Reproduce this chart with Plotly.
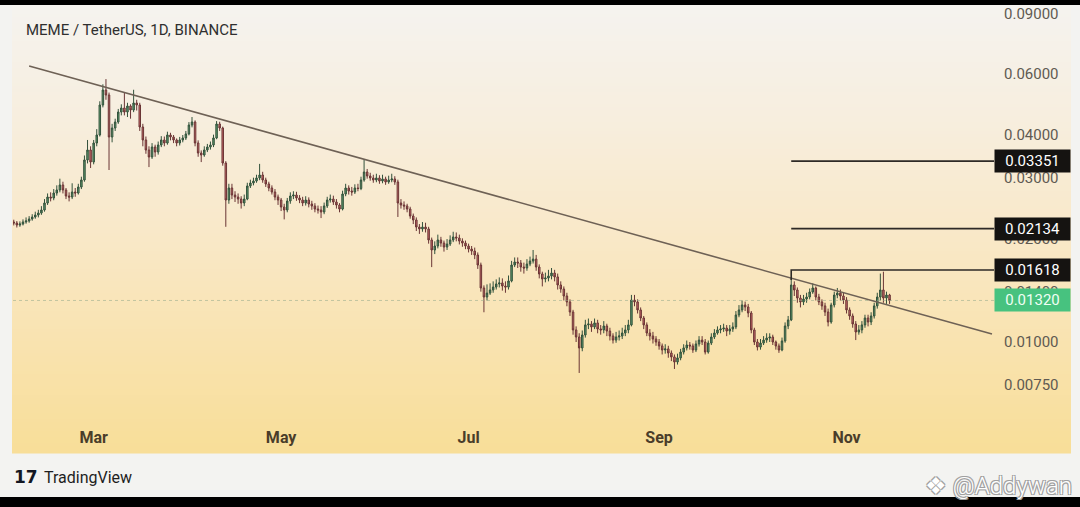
import math
import pandas as pd
import plotly.graph_objects as go

# MEME / USDT daily candles, 2024-02-04 .. 2024-11-15
start_day = "2024-02-04"
first_open = 0.02230

closes = [
    0.02216, 0.02186, 0.02201, 0.02231, 0.02246, 0.02276, 0.02306, 0.02337, 0.02369, 0.02417,
    0.02533, 0.02636, 0.02619, 0.02708, 0.02763, 0.02857, 0.02763, 0.02654, 0.02636, 0.02726,
    0.02708, 0.02819, 0.02954, 0.03377, 0.03610, 0.03332, 0.03783, 0.03991, 0.04877, 0.05391,
    0.05214, 0.03938, 0.04182, 0.04353, 0.04654, 0.04780, 0.04654, 0.04844, 0.04717, 0.04943,
    0.04877, 0.04210, 0.03860, 0.03610, 0.03445, 0.03683, 0.03562, 0.03733, 0.03860, 0.03783,
    0.03991, 0.03938, 0.03860, 0.03783, 0.03860, 0.03912, 0.04018, 0.04266, 0.04353, 0.03783,
    0.03538, 0.03491, 0.03610, 0.03683, 0.03733, 0.03912, 0.04295, 0.04182, 0.03309, 0.02584,
    0.02800, 0.02672, 0.02636, 0.02601, 0.02533, 0.02601, 0.02838, 0.02895, 0.02934, 0.02994,
    0.03054, 0.02954, 0.02876, 0.02800, 0.02726, 0.02636, 0.02584, 0.02466, 0.02417, 0.02567,
    0.02654, 0.02672, 0.02619, 0.02584, 0.02533, 0.02584, 0.02516, 0.02483, 0.02433, 0.02417,
    0.02385, 0.02483, 0.02584, 0.02601, 0.02550, 0.02499, 0.02433, 0.02690, 0.02800, 0.02744,
    0.02726, 0.02800, 0.02790, 0.02954, 0.03116, 0.03034, 0.02994, 0.02954, 0.02994, 0.02934,
    0.02974, 0.02915, 0.02954, 0.02974, 0.02915, 0.02533, 0.02499, 0.02483, 0.02433, 0.02322,
    0.02261, 0.02157, 0.02129, 0.02157, 0.02129, 0.01978, 0.01850, 0.01900, 0.01978, 0.01938,
    0.01887, 0.01925, 0.01978, 0.02018, 0.02004, 0.01964, 0.01938, 0.01900, 0.01862, 0.01837,
    0.01789, 0.01673, 0.01435, 0.01351, 0.01387, 0.01416, 0.01444, 0.01474, 0.01484, 0.01454,
    0.01444, 0.01504, 0.01673, 0.01707, 0.01695, 0.01651, 0.01640, 0.01684, 0.01718, 0.01741,
    0.01651, 0.01576, 0.01524, 0.01534, 0.01555, 0.01586, 0.01545, 0.01464, 0.01425, 0.01360,
    0.01307, 0.01222, 0.01084, 0.01034, 0.00961, 0.01048, 0.01121, 0.01128, 0.01106, 0.01136,
    0.01091, 0.01084, 0.01113, 0.01076, 0.01041, 0.01013, 0.01034, 0.01041, 0.01062, 0.01084,
    0.01121, 0.01324, 0.01307, 0.01239, 0.01174, 0.01121, 0.01062, 0.01041, 0.01020, 0.01000,
    0.00974, 0.00948, 0.00955, 0.00929, 0.00905, 0.00875, 0.00899, 0.00935, 0.00961, 0.00980,
    0.00974, 0.00948, 0.00987, 0.01013, 0.01000, 0.00935, 0.00993, 0.01034, 0.01062, 0.01084,
    0.01091, 0.01098, 0.01076, 0.01091, 0.01106, 0.01198, 0.01239, 0.01281, 0.01264, 0.01214,
    0.01084, 0.01000, 0.00967, 0.00993, 0.01013, 0.01027, 0.01034, 0.01000, 0.00974, 0.00948,
    0.01007, 0.01113, 0.01159, 0.01464, 0.01416, 0.01342, 0.01307, 0.01333, 0.01351, 0.01397,
    0.01435, 0.01351, 0.01307, 0.01273, 0.01222, 0.01143, 0.01281, 0.01369, 0.01387, 0.01360,
    0.01324, 0.01239, 0.01190, 0.01128, 0.01069, 0.01084, 0.01121, 0.01174, 0.01143, 0.01190,
    0.01273, 0.01351, 0.01416, 0.01342, 0.01369, 0.01320,
]

highs = [
    0.02265, 0.02245, 0.02240, 0.02270, 0.02300, 0.02320, 0.02350, 0.02390, 0.02420, 0.02480,
    0.02600, 0.02700, 0.02720, 0.02780, 0.02850, 0.02980, 0.02920, 0.02800, 0.02720, 0.02890,
    0.02800, 0.02880, 0.03020, 0.03480, 0.03860, 0.03700, 0.03860, 0.04150, 0.05000, 0.05600,
    0.05800, 0.05300, 0.04300, 0.04450, 0.04750, 0.04900, 0.05300, 0.04950, 0.04900, 0.05400,
    0.05050, 0.04950, 0.04300, 0.03950, 0.03700, 0.03780, 0.03740, 0.03820, 0.03960, 0.03950,
    0.04080, 0.04050, 0.03990, 0.03900, 0.03940, 0.03990, 0.04100, 0.04350, 0.04500, 0.04400,
    0.03850, 0.03600, 0.03700, 0.03760, 0.03820, 0.04000, 0.04380, 0.04360, 0.04220, 0.03350,
    0.02880, 0.02880, 0.02740, 0.02700, 0.02650, 0.02680, 0.02900, 0.02960, 0.03000, 0.03060,
    0.03290, 0.03120, 0.03000, 0.02920, 0.02850, 0.02780, 0.02680, 0.02620, 0.02520, 0.02620,
    0.02720, 0.02740, 0.02730, 0.02670, 0.02640, 0.02650, 0.02630, 0.02570, 0.02530, 0.02490,
    0.02480, 0.02540, 0.02640, 0.02680, 0.02660, 0.02600, 0.02530, 0.02750, 0.02880, 0.02850,
    0.02820, 0.02870, 0.02880, 0.03020, 0.03380, 0.03180, 0.03100, 0.03060, 0.03080, 0.03050,
    0.03060, 0.03020, 0.03040, 0.03080, 0.03030, 0.02960, 0.02600, 0.02560, 0.02520, 0.02470,
    0.02360, 0.02300, 0.02200, 0.02230, 0.02220, 0.02160, 0.02010, 0.01960, 0.02050, 0.02020,
    0.01970, 0.01990, 0.02040, 0.02090, 0.02080, 0.02050, 0.02000, 0.01970, 0.01930, 0.01900,
    0.01880, 0.01820, 0.01700, 0.01460, 0.01470, 0.01480, 0.01500, 0.01520, 0.01540, 0.01530,
    0.01500, 0.01560, 0.01720, 0.01760, 0.01760, 0.01730, 0.01700, 0.01740, 0.01770, 0.01850,
    0.01790, 0.01680, 0.01600, 0.01590, 0.01620, 0.01640, 0.01620, 0.01580, 0.01500, 0.01450,
    0.01390, 0.01330, 0.01240, 0.01110, 0.01060, 0.01080, 0.01160, 0.01170, 0.01150, 0.01170,
    0.01160, 0.01120, 0.01150, 0.01130, 0.01100, 0.01060, 0.01070, 0.01080, 0.01100, 0.01120,
    0.01160, 0.01370, 0.01370, 0.01330, 0.01260, 0.01190, 0.01140, 0.01090, 0.01070, 0.01040,
    0.01020, 0.00990, 0.00985, 0.00975, 0.00945, 0.00920, 0.00925, 0.00955, 0.00985, 0.01010,
    0.01000, 0.00990, 0.01010, 0.01040, 0.01040, 0.01020, 0.01010, 0.01060, 0.01090, 0.01110,
    0.01120, 0.01130, 0.01120, 0.01120, 0.01140, 0.01230, 0.01280, 0.01320, 0.01310, 0.01290,
    0.01230, 0.01100, 0.01020, 0.01020, 0.01040, 0.01060, 0.01060, 0.01050, 0.01010, 0.00990,
    0.01030, 0.01140, 0.01190, 0.01530, 0.01500, 0.01440, 0.01370, 0.01370, 0.01390, 0.01430,
    0.01480, 0.01450, 0.01380, 0.01330, 0.01300, 0.01250, 0.01300, 0.01400, 0.01435, 0.01420,
    0.01390, 0.01350, 0.01260, 0.01210, 0.01150, 0.01120, 0.01150, 0.01200, 0.01200, 0.01220,
    0.01300, 0.01390, 0.01580, 0.01600, 0.01400, 0.01380,
]

lows = [
    0.02180, 0.02150, 0.02160, 0.02180, 0.02205, 0.02220, 0.02250, 0.02280, 0.02300, 0.02340,
    0.02390, 0.02500, 0.02560, 0.02580, 0.02660, 0.02720, 0.02700, 0.02600, 0.02560, 0.02600,
    0.02640, 0.02680, 0.02780, 0.02920, 0.03300, 0.03200, 0.03280, 0.03700, 0.03950, 0.04800,
    0.05050, 0.03158, 0.03800, 0.04100, 0.04300, 0.04550, 0.04550, 0.04500, 0.04450, 0.04650,
    0.04700, 0.04100, 0.03700, 0.03520, 0.03220, 0.03400, 0.03450, 0.03500, 0.03680, 0.03700,
    0.03740, 0.03850, 0.03780, 0.03700, 0.03720, 0.03800, 0.03860, 0.03980, 0.04200, 0.03700,
    0.03450, 0.03330, 0.03450, 0.03560, 0.03620, 0.03680, 0.03880, 0.04100, 0.03250, 0.02160,
    0.02520, 0.02600, 0.02550, 0.02520, 0.02440, 0.02480, 0.02580, 0.02800, 0.02850, 0.02900,
    0.02950, 0.02900, 0.02820, 0.02740, 0.02680, 0.02580, 0.02500, 0.02400, 0.02270, 0.02380,
    0.02520, 0.02600, 0.02570, 0.02530, 0.02480, 0.02490, 0.02460, 0.02420, 0.02380, 0.02360,
    0.02290, 0.02350, 0.02450, 0.02540, 0.02500, 0.02440, 0.02380, 0.02410, 0.02650, 0.02680,
    0.02660, 0.02690, 0.02740, 0.02760, 0.02920, 0.02980, 0.02940, 0.02900, 0.02910, 0.02880,
    0.02890, 0.02860, 0.02880, 0.02910, 0.02860, 0.02307, 0.02440, 0.02420, 0.02380, 0.02280,
    0.02200, 0.02100, 0.02060, 0.02090, 0.02080, 0.01930, 0.01650, 0.01800, 0.01870, 0.01890,
    0.01830, 0.01850, 0.01900, 0.01950, 0.01960, 0.01920, 0.01890, 0.01860, 0.01820, 0.01790,
    0.01740, 0.01630, 0.01400, 0.01220, 0.01320, 0.01370, 0.01390, 0.01420, 0.01440, 0.01410,
    0.01390, 0.01420, 0.01490, 0.01650, 0.01640, 0.01600, 0.01580, 0.01610, 0.01660, 0.01690,
    0.01610, 0.01530, 0.01450, 0.01490, 0.01500, 0.01520, 0.01500, 0.01420, 0.01390, 0.01320,
    0.01270, 0.01190, 0.01050, 0.01000, 0.00813, 0.00940, 0.01030, 0.01090, 0.01070, 0.01090,
    0.01060, 0.01050, 0.01060, 0.01040, 0.01010, 0.00990, 0.00995, 0.01010, 0.01020, 0.01040,
    0.01060, 0.01110, 0.01270, 0.01210, 0.01150, 0.01090, 0.01040, 0.01010, 0.00990, 0.00975,
    0.00950, 0.00920, 0.00925, 0.00900, 0.00880, 0.00835, 0.00860, 0.00885, 0.00920, 0.00945,
    0.00950, 0.00930, 0.00935, 0.00970, 0.00980, 0.00920, 0.00925, 0.00980, 0.01020, 0.01050,
    0.01060, 0.01070, 0.01040, 0.01050, 0.01070, 0.01090, 0.01180, 0.01220, 0.01230, 0.01180,
    0.01060, 0.00980, 0.00945, 0.00950, 0.00980, 0.00995, 0.01000, 0.00980, 0.00950, 0.00930,
    0.00940, 0.00995, 0.01090, 0.01150, 0.01360, 0.01300, 0.01260, 0.01280, 0.01300, 0.01330,
    0.01380, 0.01320, 0.01280, 0.01240, 0.01190, 0.01110, 0.01130, 0.01260, 0.01340, 0.01320,
    0.01290, 0.01210, 0.01160, 0.01100, 0.01013, 0.01050, 0.01060, 0.01100, 0.01110, 0.01120,
    0.01170, 0.01250, 0.01320, 0.01300, 0.01290, 0.01290,
]

# drawn objects
trend_dates = ["2024-02-09", "2024-12-18 08:00"]
trend_prices = [0.0633, 0.01055]
level_start = "2024-10-14"
level_end = "2024-12-19"
level_prices = [0.03351, 0.02134, 0.01618]
level_stub_low = 0.01514
last_price = 0.01320

month_ticks = ["2024-03-01", "2024-05-01", "2024-07-01", "2024-09-01", "2024-11-01"]
month_labels = ["Mar", "May", "Jul", "Sep", "Nov"]
price_ticks = [0.0075, 0.01, 0.014, 0.02, 0.03, 0.04, 0.06, 0.09]

x_range = ["2024-02-03 18:00", "2024-12-19 07:30"]

dates = pd.date_range(start_day, periods=len(closes), freq="D")
opens = [first_open] + closes[:-1]

# layout in pixels (1080 x 507)
W, H = 1080, 507
L, R, T, B = 13, 85, 5, 87
PW, PH = W - L - R, H - T - B


def px(p):
    return (p - L) / PW


def py(p):
    return (H - B - p) / PH


fig = go.Figure()

fig.add_trace(go.Candlestick(
    x=dates, open=opens, high=highs, low=lows, close=closes,
    increasing=dict(fillcolor="#5f9b6d", line=dict(color="#33523c", width=1)),
    decreasing=dict(fillcolor="#cc6b6b", line=dict(color="#6a3535", width=1)),
    whiskerwidth=0, showlegend=False, hoverinfo="skip",
))

# last price dotted line
fig.add_trace(go.Scatter(
    x=x_range, y=[last_price, last_price], mode="lines",
    line=dict(color="rgba(150,170,140,0.55)", width=1, dash="dot"),
    showlegend=False, hoverinfo="skip",
))

# descending trendline
fig.add_trace(go.Scatter(
    x=trend_dates, y=trend_prices, mode="lines",
    line=dict(color="#6e6155", width=1.6),
    showlegend=False, hoverinfo="skip",
))

# horizontal target levels
for i, lv in enumerate(level_prices):
    xs = [level_start, level_end]
    ys = [lv, lv]
    if i == len(level_prices) - 1:
        xs = [level_start] + xs
        ys = [level_stub_low] + ys
    fig.add_trace(go.Scatter(
        x=xs, y=ys, mode="lines",
        line=dict(color="#2e2a26", width=1.6),
        showlegend=False, hoverinfo="skip",
    ))

# background gradient (top whitish -> bottom yellow)
stops = [(5, (245, 243, 239)), (120, (247, 238, 222)), (240, (249, 232, 199)),
         (340, (249, 227, 176)), (453, (248, 222, 152))]


def grad(p):
    for (p0, c0), (p1, c1) in zip(stops[:-1], stops[1:]):
        if p0 <= p <= p1:
            t = (p - p0) / (p1 - p0)
            return "rgb(%d,%d,%d)" % tuple(round(a + (b - a) * t) for a, b in zip(c0, c1))
    return "rgb(%d,%d,%d)" % stops[-1][1]


shapes = []
band = 3
p = 5
while p < 453:
    p2 = min(p + band, 453)
    shapes.append(dict(type="rect", xref="paper", yref="paper", layer="below",
                       x0=px(12), x1=px(1071), y0=py(p2 + 0.5), y1=py(p),
                       fillcolor=grad((p + p2) / 2), line=dict(width=0)))
    p = p2

# black bars of the screenshot
shapes.append(dict(type="rect", xref="paper", yref="paper", x0=px(0), x1=px(W),
                   y0=py(5), y1=py(0), fillcolor="#000000", line=dict(width=0)))
shapes.append(dict(type="rect", xref="paper", yref="paper", x0=px(0), x1=px(W),
                   y0=py(H), y1=py(497), fillcolor="#000000", line=dict(width=0)))

annotations = []

# price labels on the axis
for lv in level_prices:
    annotations.append(dict(
        xref="paper", yref="y", x=px(994), y=math.log10(lv), xanchor="left", yanchor="middle",
        text=f"{lv:.5f}", showarrow=False, bgcolor="#151311", borderpad=4,
        width=67, height=14, font=dict(family="Roboto", size=15, color="#ffffff"),
    ))
annotations.append(dict(
    xref="paper", yref="y", x=px(994), y=math.log10(last_price), xanchor="left", yanchor="middle",
    text=f"{last_price:.5f}", showarrow=False, bgcolor="#47c27f", borderpad=4,
    width=67, height=14, font=dict(family="Roboto", size=15, color="#effff4"),
))

annotations.append(dict(
    xref="paper", yref="paper", x=px(24), y=py(30), xanchor="left", yanchor="middle",
    text="MEME / TetherUS, 1D, BINANCE", showarrow=False,
    font=dict(family="Roboto", size=15, color="#2f2f2f"),
))
annotations.append(dict(
    xref="paper", yref="paper", x=px(12), y=py(477), xanchor="left", yanchor="middle",
    text="<b>17</b>", showarrow=False,
    font=dict(family="DejaVu Sans", size=17, color="#131722"),
))
annotations.append(dict(
    xref="paper", yref="paper", x=px(42), y=py(477), xanchor="left", yanchor="middle",
    text="TradingView", showarrow=False,
    font=dict(family="Roboto", size=16, color="#1e1e1e"),
))
outline = "1px 1px 0 #a0a0a0, -1px -1px 0 #a0a0a0, 1px -1px 0 #a0a0a0, -1px 1px 0 #a0a0a0"
annotations.append(dict(
    xref="paper", yref="paper", x=px(1074), y=py(486), xanchor="right", yanchor="middle",
    text="❖ @Addywan", showarrow=False,
    font=dict(family="Roboto", size=24, color="#ffffff", weight=300, shadow=outline),
))

fig.update_layout(
    width=W, height=H,
    margin=dict(l=L, r=R, t=T, b=B),
    paper_bgcolor="#f3f3f1",
    plot_bgcolor="rgba(0,0,0,0)",
    shapes=shapes,
    annotations=annotations,
    showlegend=False,
    xaxis=dict(
        type="date", range=x_range, rangeslider=dict(visible=False),
        showgrid=False, zeroline=False, showline=False, ticks="",
        tickvals=month_ticks, ticktext=month_labels, ticklabelstandoff=6,
        tickfont=dict(family="Liberation Sans Narrow, Roboto", size=16, color="#4a3d2a", weight="bold"),
    ),
    yaxis=dict(
        type="log", side="right",
        range=[-2 - (H - B - 342) / 344.4, -2 + (342 - T) / 344.4],
        showgrid=False, zeroline=False, showline=False, ticks="",
        tickvals=price_ticks, ticktext=[f"{v:.5f}" for v in price_ticks],
        ticklabelstandoff=8,
        tickfont=dict(family="Roboto", size=15, color="#5f5a52"),
    ),
)

# the page has a default 8px body margin; drop it so the figure sits at 0,0
fig.write_html("out.html", config={"displayModeBar": False},
               post_script="document.body.style.margin='0';")
